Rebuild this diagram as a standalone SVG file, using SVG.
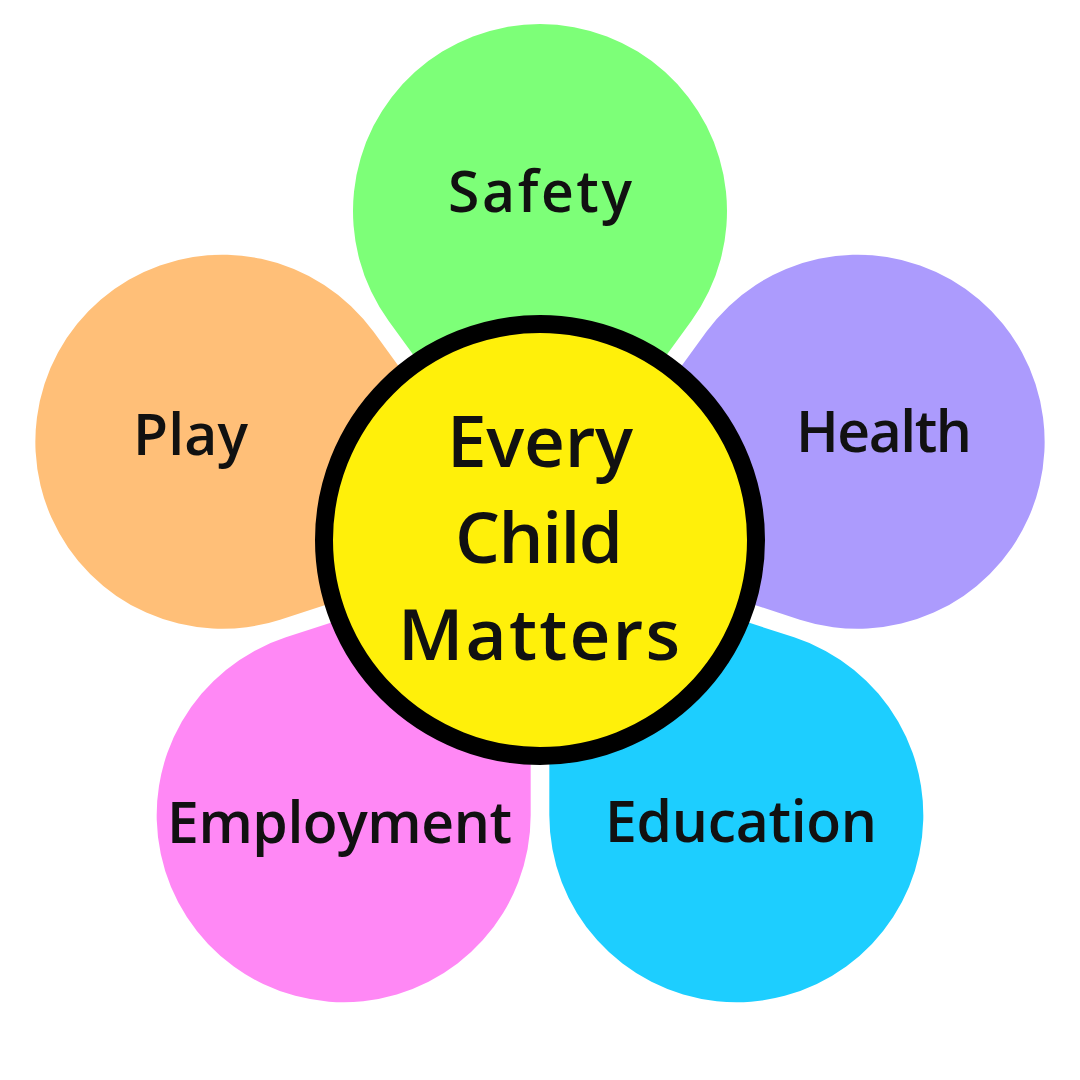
<svg xmlns="http://www.w3.org/2000/svg" width="1080" height="1080" viewBox="0 0 1080 1080">
  <defs>
    <path id="petal" d="M -151.3 109.9 A 187 187 0 1 1 151.3 109.9 L 0 318 Z"/>
  </defs>
  <style>
    .lbl { font-family: "Open Sans", "Noto Sans", "DejaVu Sans", sans-serif; font-size: 57px; font-weight: 600; fill: #111; text-anchor: start; }
    .ctr { font-family: "Open Sans", "Noto Sans", "DejaVu Sans", sans-serif; font-size: 71px; font-weight: 600; fill: #111; text-anchor: start; }
  </style>
  <rect x="0" y="0" width="1080" height="1080" fill="#ffffff"/>

  <g id="petal-safety">
    <use href="#petal" fill="#7dff78" transform="translate(540,545) rotate(0) translate(0,-334)"/>
    <text class="lbl" x="448" y="212" textLength="184">Safety</text>
  </g>
  <g id="petal-health">
    <use href="#petal" fill="#ac9bfd" transform="translate(540,545) rotate(72) translate(0,-334)"/>
    <text class="lbl" x="796" y="452" textLength="176">Health</text>
  </g>
  <g id="petal-education">
    <use href="#petal" fill="#1dceff" transform="translate(540,545) rotate(144) translate(0,-334)"/>
    <text class="lbl" x="605" y="842" textLength="272">Education</text>
  </g>
  <g id="petal-employment">
    <use href="#petal" fill="#ff88f5" transform="translate(540,545) rotate(216) translate(0,-334)"/>
    <text class="lbl" x="167" y="843" textLength="345">Employment</text>
  </g>
  <g id="petal-play">
    <use href="#petal" fill="#ffbf78" transform="translate(540,545) rotate(288) translate(0,-334)"/>
    <text class="lbl" x="133" y="455" textLength="115">Play</text>
  </g>

  <g id="center">
    <circle cx="540" cy="540" r="216" fill="#fff00a" stroke="#000000" stroke-width="18"/>
    <text class="ctr" x="447" y="467" textLength="186">Every</text>
    <text class="ctr" x="455" y="563" textLength="168">Child</text>
    <text class="ctr" x="398" y="660" textLength="282">Matters</text>
  </g>

  <g id="connectors"></g>
</svg>
